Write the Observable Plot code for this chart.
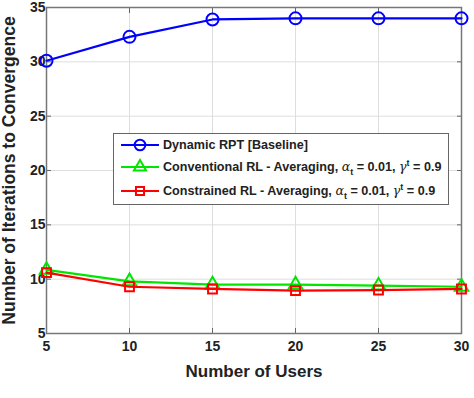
<!DOCTYPE html>
<html>
<head>
<meta charset="utf-8">
<script src="https://cdn.jsdelivr.net/npm/d3@7"></script>
<script src="https://cdn.jsdelivr.net/npm/@observablehq/plot@0.6"></script>
<style>
  html, body { margin: 0; padding: 0; background: white; }
  #wrap { position: relative; width: 474px; height: 398px; font-family: "Liberation Sans", Arial, sans-serif; }
  #legend { position: absolute; left: 113px; top: 133px; width: 336px; height: 72px; background: white; border: 1.5px solid #666; box-sizing: border-box; font-weight: bold; font-size: 12.6px; color: #222; }
  .row { position: absolute; left: 0; height: 20px; display: flex; align-items: center; white-space: nowrap; }
  .row svg { flex: none; margin-left: 6px; margin-right: 3px; }
  .g { font-family: "DejaVu Serif", serif; font-style: italic; font-weight: normal; }
  sub, sup { font-size: 9px; }
</style>
</head>
<body>
<div id="wrap"></div>
<script>
const users = [5, 10, 15, 20, 25, 30];
const dynamicRPT = [30.1, 32.3, 33.9, 34.0, 34.0, 34.0];
const conventionalRL = [10.85, 9.8, 9.5, 9.5, 9.4, 9.3];
const constrainedRL = [10.6, 9.3, 9.1, 8.95, 9.0, 9.1];
const xTicks = [5, 10, 15, 20, 25, 30];
const yTicks = [5, 10, 15, 20, 25, 30, 35];
const seriesNames = ["Dynamic RPT [Baseline]", "Conventional RL - Averaging", "Constrained RL - Averaging"];
const colors = ["#0000ff", "#00e600", "#ff0000"];
const symbols = ["circle", "triangle", "square"];

const seriesValues = [dynamicRPT, conventionalRL, constrainedRL];
const data = seriesValues.flatMap((vals, i) => users.map((u, j) => ({users: u, value: vals[j], series: seriesNames[i]})));

const marks = [
  Plot.gridX(xTicks, {stroke: "#dedede", strokeOpacity: 1}),
  Plot.gridY(yTicks, {stroke: "#dedede", strokeOpacity: 1}),
  Plot.axisX(xTicks, {anchor: "bottom", tickSize: -5, tickPadding: 13, stroke: "#666", label: "Number of Users", labelAnchor: "center", labelOffset: 43, labelArrow: "none", fontSize: 14}),
  Plot.axisX(xTicks, {anchor: "top", tickSize: -5, stroke: "#666", tickFormat: () => "", label: null}),
  Plot.axisY(yTicks, {anchor: "left", tickSize: -5, tickPadding: 6, stroke: "#666", label: "Number of Iterations to Convergence", labelAnchor: "center", labelOffset: 44, labelArrow: "none", fontSize: 14}),
  Plot.axisY(yTicks, {anchor: "right", tickSize: -5, stroke: "#666", tickFormat: () => "", label: null}),
  Plot.frame({stroke: "#777", strokeWidth: 1.5})
];
seriesNames.forEach((name, i) => {
  const d = data.filter(r => r.series === name);
  marks.push(Plot.line(d, {x: "users", y: "value", stroke: colors[i], strokeWidth: 2.2}));
  marks.push(Plot.dot(d, {x: "users", y: "value", symbol: symbols[i], r: i === 0 ? 6 : 5, stroke: colors[i], strokeWidth: 2, fill: "none"}));
});

const chart = Plot.plot({
  width: 474,
  height: 398,
  marginLeft: 46,
  marginRight: 13,
  marginTop: 7,
  marginBottom: 65,
  x: {domain: [5, 30]},
  y: {domain: [5, 35]},
  style: {fontFamily: "'Liberation Sans', Arial, sans-serif", fontWeight: "bold", fontSize: "14px", color: "#222", background: "white"},
  marks
});
chart.querySelectorAll("[aria-label='x-axis label'] text").forEach(t => t.setAttribute("font-size", "17px"));
chart.querySelectorAll("[aria-label='y-axis label'] text").forEach(t => t.setAttribute("font-size", "17.5px"));
document.getElementById("wrap").appendChild(chart);

// legend overlay
const legend = document.createElement("div");
legend.id = "legend";
const labelsHTML = [
  seriesNames[0],
  seriesNames[1] + ', <span class="g">α</span><sub>t</sub> = 0.01, <span class="g">γ</span><sup>t</sup> = 0.9',
  seriesNames[2] + ', <span class="g">α</span><sub>t</sub> = 0.01, <span class="g">γ</span><sup>t</sup> = 0.9'
];
const rowTops = [1, 23, 47];
labelsHTML.forEach((html, i) => {
  const row = document.createElement("div");
  row.className = "row";
  row.style.top = rowTops[i] + "px";
  const s = d3.create("svg").attr("width", 40).attr("height", 20);
  s.append("line").attr("x1", 1).attr("x2", 39).attr("y1", 10).attr("y2", 10).attr("stroke", colors[i]).attr("stroke-width", 2);
  s.append("path").attr("transform", "translate(20,10)")
    .attr("d", d3.symbol(i === 0 ? d3.symbolCircle : i === 1 ? d3.symbolTriangle : d3.symbolSquare, i === 0 ? 90 : 65)())
    .attr("fill", "none").attr("stroke", colors[i]).attr("stroke-width", 2);
  row.appendChild(s.node());
  const span = document.createElement("span");
  span.innerHTML = html;
  row.appendChild(span);
  legend.appendChild(row);
});
document.getElementById("wrap").appendChild(legend);
</script>
</body>
</html>
